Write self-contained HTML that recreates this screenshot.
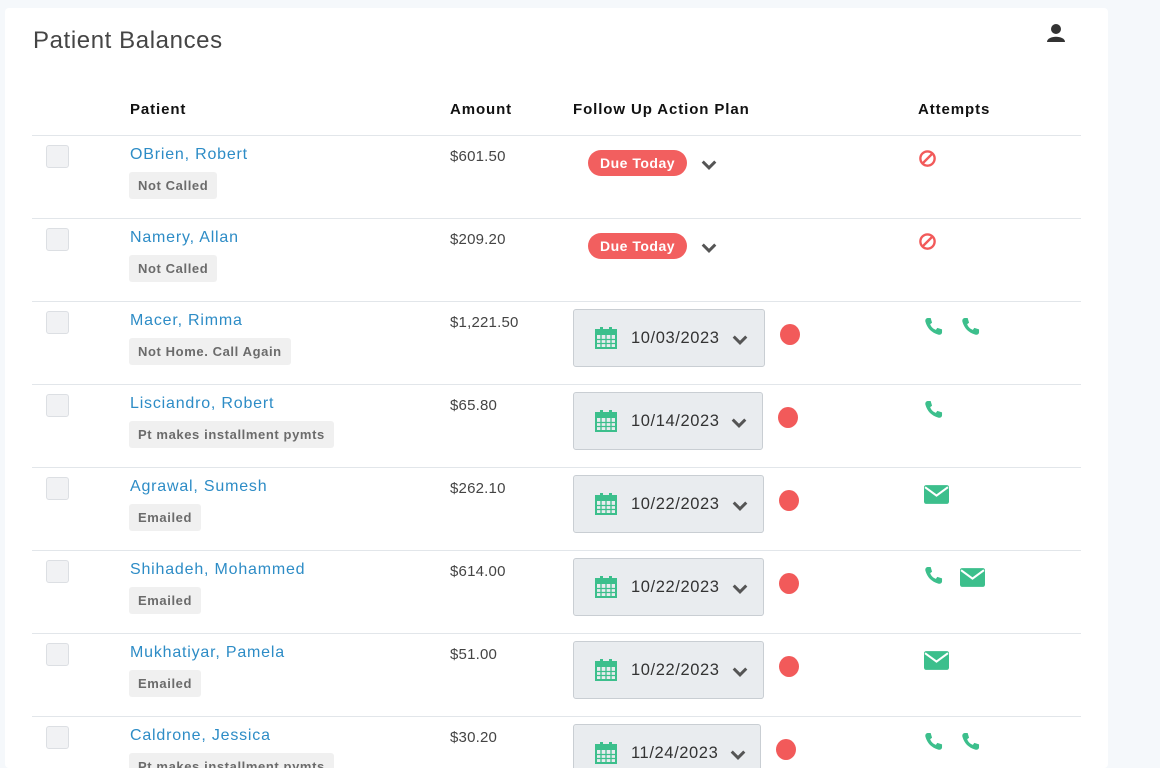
<!DOCTYPE html>
<html><head><meta charset="utf-8"><style>
*{margin:0;padding:0;box-sizing:border-box}
html,body{width:1160px;height:768px;overflow:hidden}
body{background:#f5f8fb;font-family:"Liberation Sans",sans-serif;position:relative}
.card{position:absolute;left:5px;top:8px;width:1103px;height:760px;background:#fff;border-radius:4px}
.a{position:absolute}
.title{left:33px;top:27px;font-size:24px;color:#454545;letter-spacing:0.6px}
.th{top:101px;font-size:15px;font-weight:bold;color:#111;letter-spacing:0.9px}
.line{left:32px;width:1049px;height:1px;background:#e2e6ea}
.row{position:absolute;left:0;width:1108px;height:83px}
.cb{left:46px;top:10px;width:23px;height:23px;border:1px solid #dcdfe3;background:#f1f2f4;border-radius:3px}
.nm{left:130px;top:11px;font-size:16px;color:#2d8cc6;letter-spacing:0.8px}
.tag{left:129px;top:37px;height:27px;line-height:27px;padding:0 9px;background:#f0f0f0;color:#6b6b6b;font-weight:bold;font-size:13px;border-radius:3px;letter-spacing:0.6px}
.amt{left:450px;top:13px;font-size:15px;color:#444;letter-spacing:0.2px}
.due{left:588px;top:15px;width:99px;height:26px;line-height:26px;border-radius:13px;background:#f25f5f;color:#fff;font-weight:bold;font-size:14px;text-align:center;letter-spacing:0.5px}
.box{left:573px;top:8px;height:58px;width:191px;border:1px solid #c9ced3;border-radius:3px;background:#e9ecef}
.date{position:absolute;left:57px;top:19px;font-size:16.5px;color:#333;letter-spacing:0.6px}
.dot{left:780px;top:23px;width:20px;height:21px;border-radius:50%;background:#f25a5a}
</style></head><body>
<div class="card"></div>
<div class="a title">Patient Balances</div>
<svg class="a" style="left:1046px;top:23px" width="20" height="20" viewBox="0 0 20 20"><circle cx="10" cy="6" r="5" fill="#333"/><path d="M1 19 C1 12 19 12 19 19Z" fill="#333"/></svg>
<div class="a th" style="left:130px">Patient</div>
<div class="a th" style="left:450px">Amount</div>
<div class="a th" style="left:573px">Follow Up Action Plan</div>
<div class="a th" style="left:918px">Attempts</div>
<div class="a line" style="top:135px"></div>
<div class="a line" style="top:218px"></div>
<div class="a line" style="top:301px"></div>
<div class="a line" style="top:384px"></div>
<div class="a line" style="top:467px"></div>
<div class="a line" style="top:550px"></div>
<div class="a line" style="top:633px"></div>
<div class="a line" style="top:716px"></div>

<svg width="0" height="0" style="position:absolute"><defs>
<symbol id="ph" viewBox="0 0 20 20"><path d="M4 1 L7 1 L8.5 6 L6.5 7.5 C7.5 10.5 9.5 12.5 12.5 13.5 L14 11.5 L19 13 L19 16 C19 18 17 19 15 18.5 C8 16.5 3.5 12 1.5 5 C1 3 2 1 4 1Z" fill="#3cbf8c"/></symbol>
<symbol id="ml" viewBox="0 0 24 18"><rect x="0" y="0" width="24" height="18" rx="2" fill="#3cbf8c"/><path d="M1 2 L12 10 L23 2" stroke="#fff" stroke-width="2" fill="none"/></symbol>
<symbol id="cal" viewBox="0 0 22 22"><rect x="1" y="3" width="20" height="18" fill="none" stroke="#3cbf8c" stroke-width="2"/><rect x="1" y="3" width="20" height="5" fill="#3cbf8c"/><rect x="5" y="0" width="3" height="5" fill="#3cbf8c"/><rect x="14" y="0" width="3" height="5" fill="#3cbf8c"/><path d="M6 8V21M11 8V21M16 8V21M1 12.5H21M1 16.5H21" stroke="#3cbf8c" stroke-width="1.3"/></symbol>
<symbol id="chev" viewBox="0 0 14 10"><path d="M1.5 2 L7 7.5 L12.5 2" stroke="#555" stroke-width="2.6" fill="none"/></symbol>
<symbol id="no" viewBox="0 0 20 20"><circle cx="10" cy="10" r="7.5" stroke="#f25a5a" stroke-width="2.5" fill="none"/><path d="M4.5 15.5 L15.5 4.5" stroke="#f25a5a" stroke-width="2.5"/></symbol>
</defs></svg>

<div class="row" style="top:135px">
<div class="a cb"></div><div class="a nm">OBrien, Robert</div><div class="a tag">Not Called</div>
<div class="a amt">$601.50</div><div class="a due">Due Today</div>
<svg class="a" style="left:701px;top:24px" width="16" height="12"><use href="#chev"/></svg>
<svg class="a" style="left:918px;top:14px" width="19" height="19"><use href="#no"/></svg>
</div>
<div class="row" style="top:218px">
<div class="a cb"></div><div class="a nm">Namery, Allan</div><div class="a tag">Not Called</div>
<div class="a amt">$209.20</div><div class="a due">Due Today</div>
<svg class="a" style="left:701px;top:24px" width="16" height="12"><use href="#chev"/></svg>
<svg class="a" style="left:918px;top:14px" width="19" height="19"><use href="#no"/></svg>
</div>
<div class="row" style="top:301px">
<div class="a cb"></div><div class="a nm">Macer, Rimma</div><div class="a tag">Not Home. Call Again</div>
<div class="a amt">$1,221.50</div>
<div class="a box" style="width:192px"><svg class="a" style="left:21px;top:17px" width="22" height="22"><use href="#cal"/></svg><div class="date">10/03/2023</div><svg class="a" style="left:158px;top:24px" width="16" height="12"><use href="#chev"/></svg></div>
<div class="a dot"></div>
<svg class="a" style="left:924px;top:16px" width="19" height="19"><use href="#ph"/></svg>
<svg class="a" style="left:961px;top:16px" width="19" height="19"><use href="#ph"/></svg>
</div>
<div class="row" style="top:384px">
<div class="a cb"></div><div class="a nm">Lisciandro, Robert</div><div class="a tag">Pt makes installment pymts</div>
<div class="a amt">$65.80</div>
<div class="a box" style="width:190px"><svg class="a" style="left:21px;top:17px" width="22" height="22"><use href="#cal"/></svg><div class="date">10/14/2023</div><svg class="a" style="left:157px;top:24px" width="16" height="12"><use href="#chev"/></svg></div>
<div class="a dot" style="left:778px"></div>
<svg class="a" style="left:924px;top:16px" width="19" height="19"><use href="#ph"/></svg>
</div>
<div class="row" style="top:467px">
<div class="a cb"></div><div class="a nm">Agrawal, Sumesh</div><div class="a tag">Emailed</div>
<div class="a amt">$262.10</div>
<div class="a box"><svg class="a" style="left:21px;top:17px" width="22" height="22"><use href="#cal"/></svg><div class="date">10/22/2023</div><svg class="a" style="left:158px;top:24px" width="16" height="12"><use href="#chev"/></svg></div>
<div class="a dot" style="left:779px"></div>
<svg class="a" style="left:924px;top:18px" width="25" height="19"><use href="#ml"/></svg>
</div>
<div class="row" style="top:550px">
<div class="a cb"></div><div class="a nm">Shihadeh, Mohammed</div><div class="a tag">Emailed</div>
<div class="a amt">$614.00</div>
<div class="a box"><svg class="a" style="left:21px;top:17px" width="22" height="22"><use href="#cal"/></svg><div class="date">10/22/2023</div><svg class="a" style="left:158px;top:24px" width="16" height="12"><use href="#chev"/></svg></div>
<div class="a dot" style="left:779px"></div>
<svg class="a" style="left:924px;top:16px" width="19" height="19"><use href="#ph"/></svg>
<svg class="a" style="left:960px;top:18px" width="25" height="19"><use href="#ml"/></svg>
</div>
<div class="row" style="top:633px">
<div class="a cb"></div><div class="a nm">Mukhatiyar, Pamela</div><div class="a tag">Emailed</div>
<div class="a amt">$51.00</div>
<div class="a box"><svg class="a" style="left:21px;top:17px" width="22" height="22"><use href="#cal"/></svg><div class="date">10/22/2023</div><svg class="a" style="left:158px;top:24px" width="16" height="12"><use href="#chev"/></svg></div>
<div class="a dot" style="left:779px"></div>
<svg class="a" style="left:924px;top:18px" width="25" height="19"><use href="#ml"/></svg>
</div>
<div class="row" style="top:716px">
<div class="a cb"></div><div class="a nm">Caldrone, Jessica</div><div class="a tag">Pt makes installment pymts</div>
<div class="a amt">$30.20</div>
<div class="a box" style="width:188px"><svg class="a" style="left:21px;top:17px" width="22" height="22"><use href="#cal"/></svg><div class="date">11/24/2023</div><svg class="a" style="left:156px;top:24px" width="16" height="12"><use href="#chev"/></svg></div>
<div class="a dot" style="left:776px"></div>
<svg class="a" style="left:924px;top:16px" width="19" height="19"><use href="#ph"/></svg>
<svg class="a" style="left:961px;top:16px" width="19" height="19"><use href="#ph"/></svg>
</div>
</body></html>
